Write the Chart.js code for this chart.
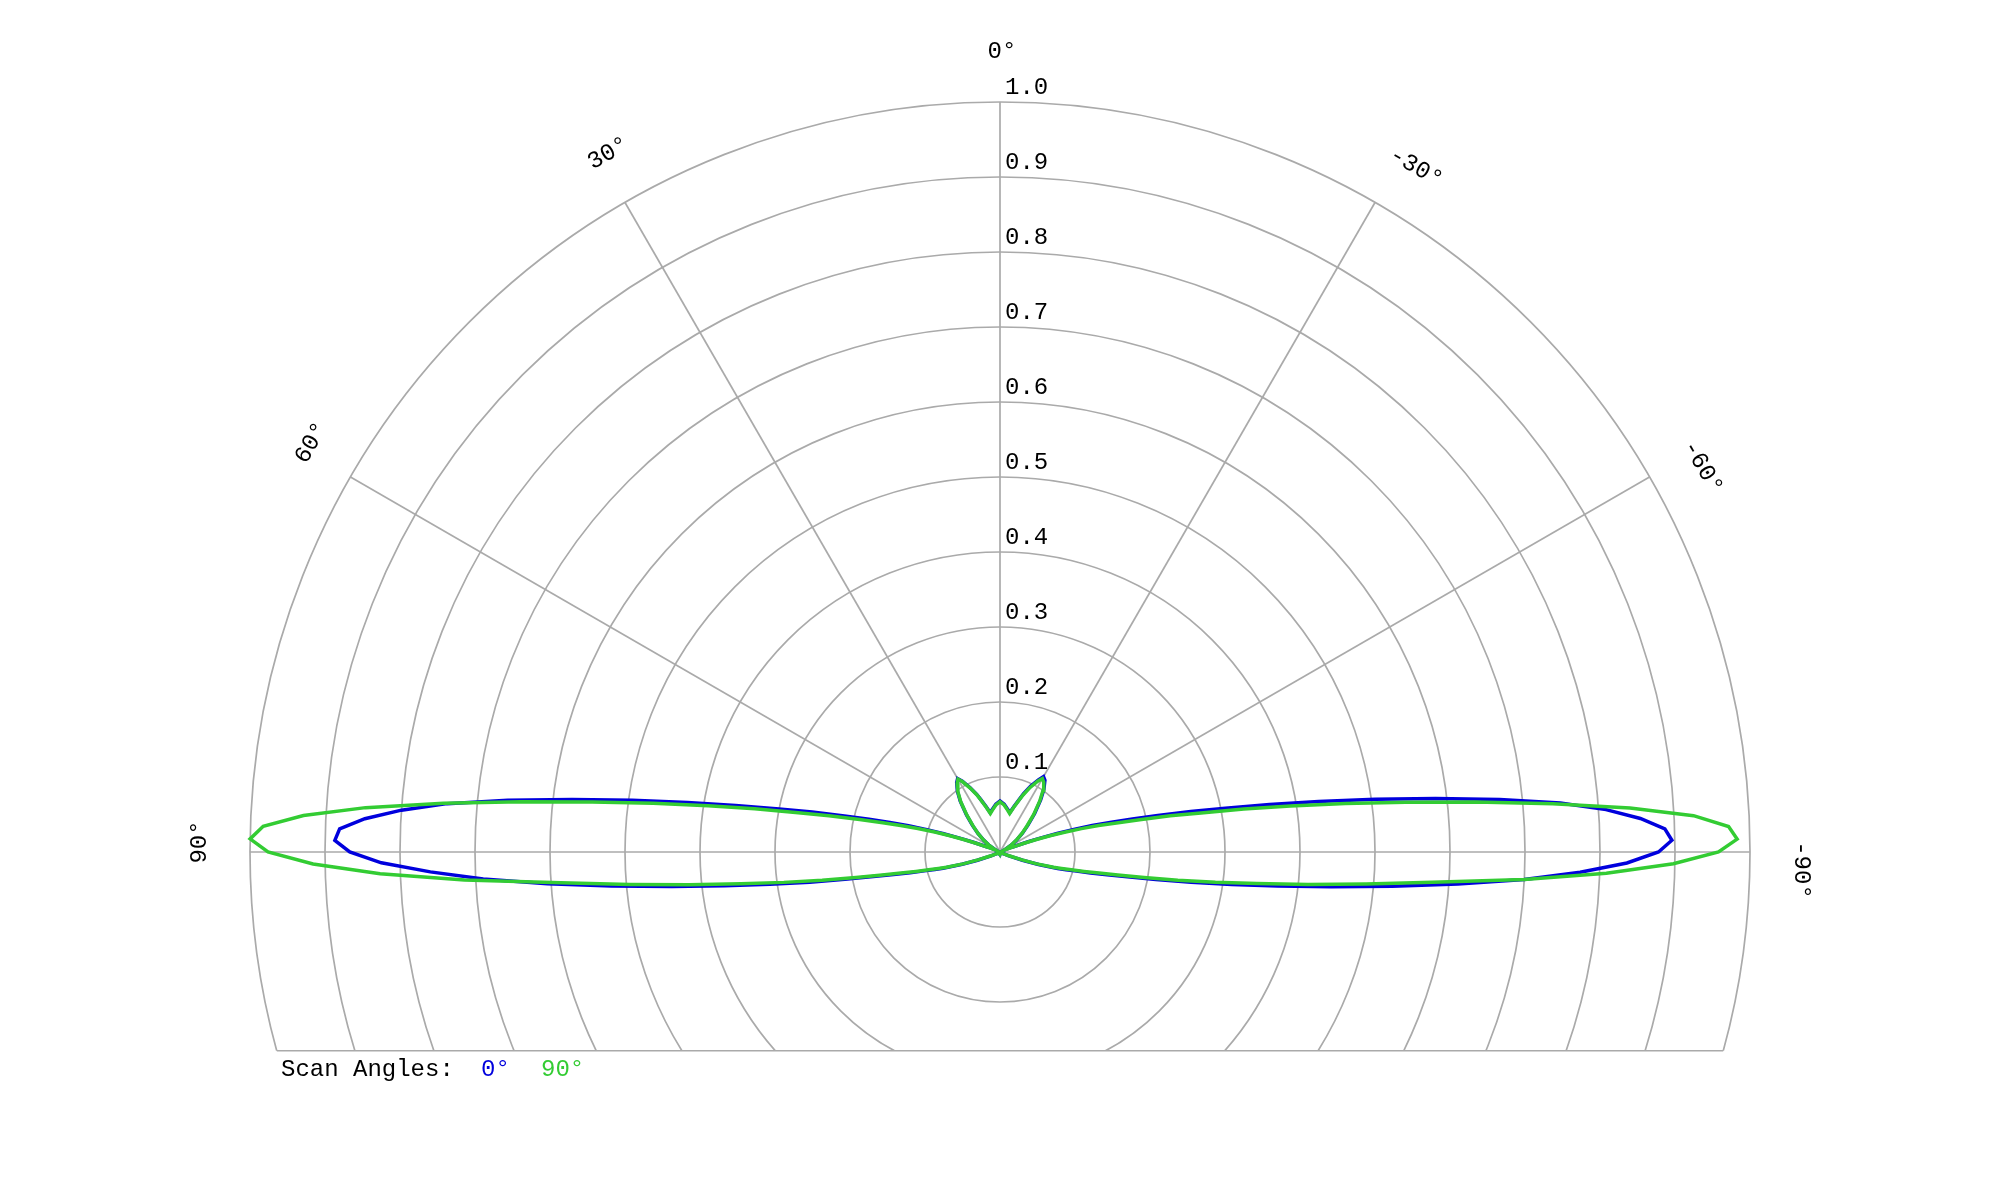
<!DOCTYPE html>
<html>
<head>
<meta charset="utf-8">
<script src="https://cdn.jsdelivr.net/npm/chart.js@4.4.1/dist/chart.umd.min.js"></script>
<style>
  html, body { margin: 0; padding: 0; background: #fff; }
  canvas { display: block; }
</style>
</head>
<body>
<canvas id="pattern" width="2000" height="1200"></canvas>
<script>
// pattern angles in degrees (0 = up, positive = counter-clockwise / left)
var angles = [
  -180, -160, -140, -130, -120, -116, -113, -110, -108,
  -106, -105, -104, -103, -102, -101, -100, -99, -98, -97, -96, -95, -94, -93, -92, -91,
  -90, -89, -88, -87, -86, -85, -84, -83, -82, -81, -80, -79, -78, -77, -76, -75, -74, -73, -72, -71, -70,
  -68, -65, -62, -58, -54, -50, -46, -42, -38, -35, -32, -30, -28, -25, -22, -20, -17, -14, -10, -5,
  0,
  5, 10, 14, 17, 20, 22, 25, 28, 30, 32, 35, 38, 42, 46, 50, 54, 58, 62, 65, 68,
  70, 71, 72, 73, 74, 75, 76, 77, 78, 79, 80, 81, 82, 83, 84, 85, 86, 87, 88, 89,
  90, 91, 92, 93, 94, 95, 96, 97, 98, 99, 100, 101, 102, 103, 104, 105, 106,
  108, 110, 113, 116, 120, 130, 140, 160, 180
];

// normalised gain, scan angle 0°
var scan0 = [
  0.002, 0.002, 0.002, 0.002, 0.002, 0.004, 0.013, 0.032, 0.054,
  0.08, 0.091, 0.105, 0.124, 0.146, 0.173, 0.211, 0.258, 0.312, 0.373, 0.444, 0.525, 0.612, 0.70, 0.774, 0.836,
  0.878, 0.896, 0.887, 0.855, 0.81, 0.75, 0.67, 0.585, 0.505, 0.43, 0.365, 0.306, 0.26, 0.216, 0.182, 0.154, 0.128, 0.103, 0.08, 0.058, 0.04,
  0.017, 0.006, 0.01, 0.019, 0.028, 0.039, 0.052, 0.069, 0.088, 0.102, 0.113, 0.116, 0.109, 0.097, 0.084, 0.074, 0.063, 0.054, 0.058, 0.064,
  0.068,
  0.064, 0.058, 0.054, 0.063, 0.074, 0.083, 0.095, 0.107, 0.113, 0.109, 0.099, 0.086, 0.067, 0.051, 0.038, 0.027, 0.018, 0.01, 0.006, 0.017,
  0.039, 0.057, 0.079, 0.102, 0.127, 0.152, 0.18, 0.213, 0.256, 0.3, 0.358, 0.422, 0.495, 0.575, 0.66, 0.74, 0.80, 0.848, 0.881, 0.887,
  0.867, 0.825, 0.76, 0.69, 0.605, 0.52, 0.44, 0.37, 0.31, 0.257, 0.21, 0.172, 0.145, 0.123, 0.104, 0.09, 0.079,
  0.053, 0.032, 0.013, 0.004, 0.002, 0.002, 0.002, 0.002, 0.002
];

// normalised gain, scan angle 90°
var scan90 = [
  0.002, 0.002, 0.002, 0.002, 0.002, 0.004, 0.012, 0.03, 0.05,
  0.074, 0.085, 0.098, 0.115, 0.135, 0.16, 0.195, 0.24, 0.29, 0.345, 0.413, 0.49, 0.578, 0.70, 0.809, 0.898,
  0.958, 0.983, 0.972, 0.926, 0.842, 0.74, 0.638, 0.545, 0.465, 0.392, 0.33, 0.273, 0.232, 0.191, 0.16, 0.136, 0.113, 0.09, 0.07, 0.05, 0.034,
  0.015, 0.006, 0.01, 0.018, 0.027, 0.038, 0.05, 0.067, 0.086, 0.1, 0.11, 0.113, 0.107, 0.095, 0.082, 0.073, 0.062, 0.053, 0.057, 0.063,
  0.067,
  0.063, 0.057, 0.053, 0.062, 0.073, 0.082, 0.094, 0.106, 0.112, 0.108, 0.098, 0.085, 0.066, 0.05, 0.038, 0.027, 0.018, 0.01, 0.006, 0.015,
  0.034, 0.05, 0.07, 0.091, 0.114, 0.137, 0.161, 0.192, 0.233, 0.274, 0.332, 0.394, 0.467, 0.548, 0.642, 0.745, 0.848, 0.93, 0.983, 1.0,
  0.976, 0.916, 0.827, 0.715, 0.587, 0.496, 0.417, 0.348, 0.291, 0.24, 0.195, 0.16, 0.135, 0.115, 0.098, 0.085, 0.074,
  0.05, 0.03, 0.012, 0.004, 0.002, 0.002, 0.002, 0.002, 0.002
];

var scanAngles = [0, 90];
var scanColors = ['#0000dd', '#33cc33'];

var ringTicks = [0.1, 0.2, 0.3, 0.4, 0.5, 0.6, 0.7, 0.8, 0.9, 1.0];
var spokeAngles = [90, 60, 30, 0, -30, -60, -90];

var gridBottom = -0.265;   // grid is cut off a bit below the centre
var labelRadius = 1.07;
var gridColor = '#aaaaaa';
var fontFamily = '"Liberation Mono", "DejaVu Sans Mono", monospace';

function toXY(values) {
  return angles.map(function (a, i) {
    var t = a * Math.PI / 180;
    return { x: -values[i] * Math.sin(t), y: values[i] * Math.cos(t) };
  });
}

var polarGrid = {
  id: 'polarGrid',
  beforeDatasetsDraw: function (chart) {
    var ctx = chart.ctx;
    var xs = chart.scales.x, ys = chart.scales.y;
    var cx = xs.getPixelForValue(0), cy = ys.getPixelForValue(0);
    var unit = xs.getPixelForValue(1) - cx;
    var clipY = ys.getPixelForValue(gridBottom);
    var outer = ringTicks[ringTicks.length - 1] * unit;

    ctx.save();
    ctx.strokeStyle = gridColor;
    ctx.lineWidth = 1.7;

    ctx.save();
    ctx.beginPath();
    ctx.rect(0, 0, chart.width, clipY);
    ctx.clip();
    ringTicks.forEach(function (r) {
      ctx.beginPath();
      ctx.arc(cx, cy, r * unit, 0, Math.PI * 2);
      ctx.stroke();
    });
    ctx.restore();

    spokeAngles.forEach(function (a) {
      var t = a * Math.PI / 180;
      ctx.beginPath();
      ctx.moveTo(cx, cy);
      ctx.lineTo(cx - outer * Math.sin(t), cy - outer * Math.cos(t));
      ctx.stroke();
    });

    // bottom edge of the grid
    var dy = clipY - cy;
    var half = Math.sqrt(outer * outer - dy * dy);
    ctx.beginPath();
    ctx.moveTo(cx - half, clipY);
    ctx.lineTo(cx + half, clipY);
    ctx.stroke();
    ctx.restore();
  },
  afterDatasetsDraw: function (chart) {
    var ctx = chart.ctx;
    var xs = chart.scales.x, ys = chart.scales.y;
    var cx = xs.getPixelForValue(0);

    ctx.save();
    ctx.fillStyle = '#000';
    ctx.font = '24px ' + fontFamily;

    // radial tick labels next to the 0° spoke
    ctx.textAlign = 'left';
    ctx.textBaseline = 'alphabetic';
    ringTicks.forEach(function (r) {
      ctx.fillText(r.toFixed(1), cx + 5, ys.getPixelForValue(r) - 8);
    });

    // angle labels, turned along the circle
    ctx.textAlign = 'center';
    spokeAngles.forEach(function (a) {
      var t = a * Math.PI / 180;
      var txt = a + '\u00b0';
      var px = xs.getPixelForValue(-labelRadius * Math.sin(t));
      var py = ys.getPixelForValue(labelRadius * Math.cos(t));
      ctx.save();
      ctx.translate(px, py);
      ctx.rotate(-t);
      ctx.fillText(txt, (txt.length - 2) * 8 + 2, 8);
      ctx.restore();
    });

    // legend
    ctx.textAlign = 'left';
    ctx.fillText('Scan Angles:', 281, 1076);
    var legendX = [481, 541];
    scanAngles.forEach(function (s, i) {
      ctx.fillStyle = scanColors[i];
      ctx.fillText(s + '\u00b0', legendX[i], 1076);
    });
    ctx.restore();
  }
};

var ctx = document.getElementById('pattern').getContext('2d');

new Chart(ctx, {
  type: 'scatter',
  data: {
    datasets: [
      {
        label: scanAngles[0] + '\u00b0',
        data: toXY(scan0),
        showLine: true,
        borderColor: scanColors[0],
        backgroundColor: scanColors[0],
        borderWidth: 3.5,
        pointRadius: 0,
        tension: 0,
        order: 1
      },
      {
        label: scanAngles[1] + '\u00b0',
        data: toXY(scan90),
        showLine: true,
        borderColor: scanColors[1],
        backgroundColor: scanColors[1],
        borderWidth: 3.5,
        pointRadius: 0,
        tension: 0,
        order: 0
      }
    ]
  },
  options: {
    responsive: false,
    animation: false,
    layout: { padding: 0 },
    plugins: {
      legend: { display: false },
      tooltip: { enabled: false }
    },
    scales: {
      x: { type: 'linear', display: false, min: -1000 / 750, max: 1000 / 750 },
      y: { type: 'linear', display: false, min: -348 / 750, max: 852 / 750 }
    }
  },
  plugins: [polarGrid]
});
</script>
</body>
</html>
